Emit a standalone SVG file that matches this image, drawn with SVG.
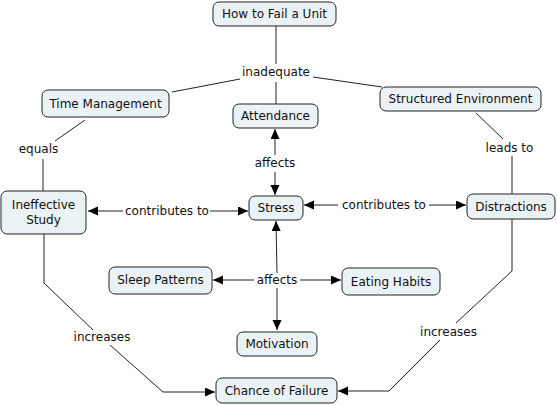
<svg xmlns="http://www.w3.org/2000/svg" width="557" height="405" viewBox="0 0 557 405">
<style>
.n rect{fill:#ebf2f5;stroke:#222;stroke-width:1}
text{font-family:"DejaVu Sans",Verdana,sans-serif;font-size:12px;fill:#111;text-anchor:middle}
.c line,.c polyline{stroke:#222;stroke-width:1;fill:none}
.a{marker-end:url(#ah)}
</style>
<defs>
<marker id="ah" markerUnits="userSpaceOnUse" markerWidth="11" markerHeight="10" refX="10" refY="4.5" orient="auto">
<path d="M0,0 L10,4.5 L0,9 z" fill="#000"/>
</marker>
</defs>
<rect width="557" height="405" fill="#fff"/>
<g class="c" id="connectors">
<line x1="276" y1="26" x2="276" y2="64"/>
<line x1="276" y1="82" x2="276" y2="104"/>
<line x1="240" y1="79" x2="172" y2="92"/>
<line x1="313" y1="77" x2="382" y2="87"/>
<line x1="85" y1="120" x2="55" y2="141"/>
<line x1="43" y1="159" x2="43" y2="191"/>
<line x1="476" y1="113" x2="503" y2="139"/>
<line x1="512" y1="156" x2="512" y2="194"/>
<line class="a" x1="275" y1="155" x2="275" y2="129"/>
<line class="a" x1="275" y1="172" x2="275" y2="195"/>
<line class="a" x1="123" y1="211" x2="88" y2="211"/>
<line class="a" x1="210" y1="211" x2="248" y2="211"/>
<line class="a" x1="338" y1="205" x2="304" y2="205"/>
<line class="a" x1="429" y1="205" x2="466" y2="205"/>
<line class="a" x1="277" y1="273" x2="276" y2="221"/>
<line class="a" x1="277" y1="288" x2="277" y2="330"/>
<line class="a" x1="254" y1="280" x2="213" y2="280"/>
<line class="a" x1="300" y1="280" x2="341" y2="280"/>
<polyline points="44,234 44,283 93,330"/>
<polyline class="a" points="110,345 163,392 215,392"/>
<polyline points="512,219 512,271 456,323"/>
<polyline class="a" points="440,340 389,391 338,391"/>
</g>
<g id="labels">
<text x="276" y="76">inadequate</text>
<text x="38.5" y="153">equals</text>
<text x="509.5" y="152">leads to</text>
<text x="275" y="167">affects</text>
<text x="167" y="215">contributes to</text>
<text x="384" y="209">contributes to</text>
<text x="277" y="284">affects</text>
<text x="102" y="341">increases</text>
<text x="448.5" y="336">increases</text>
</g>
<g class="n" id="how-to-fail"><rect x="213" y="2" width="123" height="24" rx="6"/><text x="274.5" y="18">How to Fail a Unit</text></g>
<g class="n" id="time-management"><rect x="42" y="90" width="127" height="27" rx="6"/><text x="105.5" y="107.5">Time Management</text></g>
<g class="n" id="attendance"><rect x="233" y="104" width="85" height="24" rx="6"/><text x="275.5" y="120">Attendance</text></g>
<g class="n" id="structured-environment"><rect x="380" y="87" width="161" height="24" rx="6"/><text x="460.5" y="103">Structured Environment</text></g>
<g class="n" id="ineffective-study"><rect x="1" y="191" width="85" height="43" rx="6"/><text x="43.5" y="209">Ineffective</text><text x="43.5" y="224">Study</text></g>
<g class="n" id="stress"><rect x="249" y="196" width="54" height="24" rx="6"/><text x="276" y="212">Stress</text></g>
<g class="n" id="distractions"><rect x="467" y="194" width="88" height="25" rx="6"/><text x="511" y="211">Distractions</text></g>
<g class="n" id="sleep-patterns"><rect x="109" y="267" width="103" height="27" rx="6"/><text x="160.5" y="284">Sleep Patterns</text></g>
<g class="n" id="eating-habits"><rect x="342" y="268" width="98" height="27" rx="6"/><text x="391" y="285.5">Eating Habits</text></g>
<g class="n" id="motivation"><rect x="237" y="332" width="80" height="24" rx="6"/><text x="277" y="348">Motivation</text></g>
<g class="n" id="chance-of-failure"><rect x="216" y="378" width="121" height="25" rx="6"/><text x="276.5" y="395">Chance of Failure</text></g>
</svg>
